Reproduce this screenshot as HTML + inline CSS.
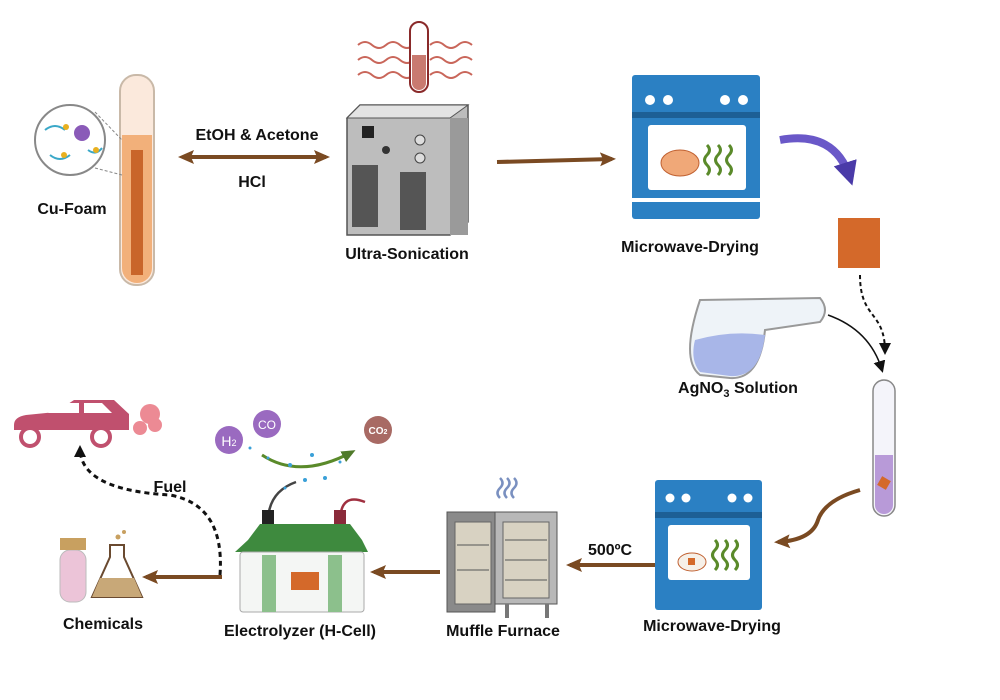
<!DOCTYPE html>
<html><head><meta charset="utf-8"><style>
html,body{margin:0;padding:0;background:#fff;}
svg{display:block;font-family:"Liberation Sans",sans-serif;}
.l{font-weight:bold;font-size:16px;fill:#111;text-anchor:middle;}
</style></head><body>
<svg width="1000" height="700" viewBox="0 0 1000 700">
<defs>
<marker id="br" markerUnits="userSpaceOnUse" markerWidth="16" markerHeight="14" refX="12" refY="7" orient="auto"><path d="M0,0 L16,7 L0,14 L3,7 z" fill="#7a4a22"/></marker>
<marker id="bl" markerUnits="userSpaceOnUse" markerWidth="12" markerHeight="12" refX="9" refY="6" orient="auto"><path d="M0,0 L12,6 L0,12 z" fill="#111"/></marker>
<marker id="pu" markerUnits="userSpaceOnUse" markerWidth="24" markerHeight="24" refX="16" refY="12" orient="auto"><path d="M0,0 L24,12 L0,24 z" fill="#4a3aa8"/></marker>
<marker id="gr" markerUnits="userSpaceOnUse" markerWidth="14" markerHeight="12" refX="10" refY="6" orient="auto"><path d="M0,0 L14,6 L0,12 z" fill="#4f7a2a"/></marker>
</defs>
<!-- Cu foam -->
<rect x="120" y="75" width="34" height="210" rx="16" fill="#fbe9dc" stroke="#c9b9a8" stroke-width="2"/>
<path d="M122,135 H152 V268 a15,15 0 0 1 -30,0 z" fill="#f2b07a"/>
<rect x="131" y="150" width="12" height="125" fill="#c9652a"/>
<line x1="95" y1="112" x2="122" y2="140" stroke="#888" stroke-dasharray="3,2"/>
<line x1="95" y1="168" x2="122" y2="175" stroke="#888" stroke-dasharray="3,2"/>
<circle cx="70" cy="140" r="35" fill="#fff" stroke="#888" stroke-width="2"/>
<circle cx="82" cy="133" r="8" fill="#8a5ab8"/>
<path d="M45,130 q10,-8 20,0 M50,155 q10,8 20,0 M88,150 q8,6 14,-2" stroke="#3aa8c8" stroke-width="2" fill="none"/>
<circle cx="66" cy="127" r="3" fill="#e8b020"/><circle cx="64" cy="155" r="3" fill="#e8b020"/><circle cx="96" cy="150" r="3" fill="#e8b020"/>
<text class="l" x="72" y="214">Cu-Foam</text>
<!-- double arrow -->
<line x1="188" y1="157" x2="326" y2="157" stroke="#7a4a22" stroke-width="4" marker-end="url(#br)"/>
<path d="M178,157 L194,150 L191,157 L194,164z" fill="#7a4a22"/>
<text class="l" x="257" y="140">EtOH &amp; Acetone</text>
<text class="l" x="252" y="187">HCl</text>
<!-- sonicator -->
<g stroke="#c9665a" stroke-width="2" fill="none">
<path d="M358,45 q7,-6 14,0 t14,0 t14,0 t14,0 M430,45 q7,-6 14,0 t14,0 t14,0"/>
<path d="M358,60 q7,-6 14,0 t14,0 t14,0 t14,0 M430,60 q7,-6 14,0 t14,0 t14,0"/>
<path d="M358,75 q7,-6 14,0 t14,0 t14,0 t14,0 M430,75 q7,-6 14,0 t14,0 t14,0"/>
</g>
<rect x="410" y="22" width="18" height="70" rx="9" fill="#fff" stroke="#8a2a2a" stroke-width="2"/>
<path d="M412,55 h14 v28 a7,7 0 0 1 -14,0z" fill="#c97a70"/>
<path d="M347,118 L360,105 L468,105 L468,222 L450,235 L347,235 z" fill="#bdbdbd" stroke="#555" stroke-width="1.5"/>
<path d="M347,118 L360,105 L468,105 L450,118 z" fill="#e3e3e3" stroke="#555"/>
<rect x="450" y="118" width="18" height="117" fill="#9a9a9a"/>
<rect x="362" y="126" width="12" height="12" fill="#222"/>
<rect x="352" y="165" width="26" height="62" fill="#555"/><rect x="400" y="172" width="26" height="58" fill="#555"/>
<circle cx="420" cy="140" r="5" fill="#ddd" stroke="#444"/><circle cx="420" cy="158" r="5" fill="#ddd" stroke="#444"/><circle cx="386" cy="150" r="4" fill="#333"/>
<text class="l" x="407" y="259">Ultra-Sonication</text>
<line x1="497" y1="162" x2="612" y2="159" stroke="#7a4a22" stroke-width="4" marker-end="url(#br)"/>
<!-- oven 1 -->
<rect x="632" y="75" width="128" height="144" rx="3" fill="#2b80c3"/>
<rect x="632" y="112" width="128" height="6" fill="#1d5f95"/>
<g fill="#fff"><circle cx="650" cy="100" r="5"/><circle cx="668" cy="100" r="5"/><circle cx="725" cy="100" r="5"/><circle cx="743" cy="100" r="5"/></g>
<rect x="648" y="125" width="98" height="65" rx="3" fill="#fff"/>
<ellipse cx="680" cy="163" rx="19" ry="13" fill="#f0a878" stroke="#c06030"/>
<path d="M707,145 q5,5 0,10 t0,10 t0,10 M718,145 q5,5 0,10 t0,10 t0,10 M729,145 q5,5 0,10 t0,10 t0,10" stroke="#5a8a2a" stroke-width="3" fill="none"/>
<rect x="632" y="198" width="128" height="4" fill="#fff"/>
<text class="l" x="690" y="252">Microwave-Drying</text>
<path d="M780,140 Q835,130 850,178" stroke="#6a58c8" stroke-width="8" fill="none" marker-end="url(#pu)"/>
<rect x="838" y="218" width="42" height="50" fill="#d4692a"/>
<path d="M860,275 C860,320 885,310 885,352" stroke="#111" stroke-width="2" stroke-dasharray="4,3" fill="none" marker-end="url(#bl)"/>
<!-- flask -->
<path d="M700,300 L820,298 Q830,310 820,322 L765,330 Q760,380 730,378 L700,375 Q680,360 700,300 z" fill="#eef3f8" stroke="#999" stroke-width="2"/>
<path d="M695,340 Q730,330 765,335 Q760,378 730,376 L700,372 Q690,360 695,340z" fill="#a8b6e8"/>
<path d="M828,315 Q870,330 882,370" stroke="#111" stroke-width="1.5" fill="none" marker-end="url(#bl)"/>
<text class="l" x="738" y="393">AgNO<tspan font-size="11" dy="4">3</tspan><tspan dy="-4"> Solution</tspan></text>
<!-- tube 2 -->
<rect x="873" y="380" width="22" height="136" rx="11" fill="#f4f4fa" stroke="#888" stroke-width="1.5"/>
<path d="M875,455 h18 v50 a9,9 0 0 1 -18,0z" fill="#b89ad8"/>
<rect x="879" y="478" width="10" height="10" fill="#d4692a" transform="rotate(30 884 483)"/>
<path d="M860,490 Q825,500 818,520 Q812,540 778,542" stroke="#7a4a22" stroke-width="4" fill="none" marker-end="url(#br)"/>
<!-- oven 2 -->
<rect x="655" y="480" width="107" height="130" rx="3" fill="#2b80c3"/>
<rect x="655" y="512" width="107" height="6" fill="#1d5f95"/>
<g fill="#fff"><circle cx="670" cy="498" r="4.5"/><circle cx="686" cy="498" r="4.5"/><circle cx="732" cy="498" r="4.5"/><circle cx="748" cy="498" r="4.5"/></g>
<rect x="668" y="525" width="82" height="55" rx="3" fill="#fff"/>
<ellipse cx="692" cy="562" rx="14" ry="9" fill="#f6f0e8" stroke="#c06030"/>
<rect x="688" y="558" width="7" height="7" fill="#d4692a"/>
<path d="M715,540 q5,5 0,10 t0,10 t0,10 M725,540 q5,5 0,10 t0,10 t0,10 M735,540 q5,5 0,10 t0,10 t0,10" stroke="#5a8a2a" stroke-width="3" fill="none"/>
<text class="l" x="712" y="631">Microwave-Drying</text>
<line x1="655" y1="565" x2="570" y2="565" stroke="#7a4a22" stroke-width="4" marker-end="url(#br)"/>
<text class="l" x="610" y="555">500ºC</text>
<!-- furnace -->
<path d="M500,478 q5,5 0,10 t0,10 M507,478 q5,5 0,10 t0,10 M514,478 q5,5 0,10 t0,10" stroke="#7a90c0" stroke-width="2.5" fill="none"/>
<rect x="447" y="512" width="48" height="100" fill="#8a8a8a" stroke="#555"/>
<rect x="455" y="522" width="36" height="82" fill="#d8d2c2" stroke="#666"/>
<rect x="495" y="512" width="62" height="92" fill="#b8b8b8" stroke="#555"/>
<rect x="503" y="522" width="46" height="76" fill="#d8d2c2" stroke="#666"/>
<g stroke="#555"><line x1="505" y1="540" x2="547" y2="540"/><line x1="505" y1="560" x2="547" y2="560"/><line x1="505" y1="580" x2="547" y2="580"/><line x1="457" y1="545" x2="489" y2="545"/><line x1="457" y1="570" x2="489" y2="570"/></g>
<rect x="505" y="604" width="4" height="14" fill="#777"/><rect x="545" y="604" width="4" height="14" fill="#777"/>
<text class="l" x="503" y="636">Muffle Furnace</text>
<line x1="440" y1="572" x2="374" y2="572" stroke="#7a4a22" stroke-width="4" marker-end="url(#br)"/>
<!-- electrolyzer -->
<path d="M268,522 q0,-30 28,-40" stroke="#444" stroke-width="2.5" fill="none"/>
<path d="M340,522 q0,-30 25,-20" stroke="#a03040" stroke-width="2.5" fill="none"/>
<rect x="262" y="510" width="12" height="22" fill="#222"/><rect x="334" y="510" width="12" height="22" fill="#8a2a3a"/>
<path d="M248,540 L260,524 L350,524 L362,540 L368,552 L235,552 z" fill="#3e8a3e"/>
<rect x="240" y="552" width="124" height="60" rx="3" fill="#f4f6f4" stroke="#aaa"/>
<rect x="262" y="555" width="14" height="57" fill="#8cc08c"/><rect x="328" y="555" width="14" height="57" fill="#8cc08c"/>
<rect x="291" y="572" width="28" height="18" fill="#d4692a"/>
<text class="l" x="300" y="636">Electrolyzer (H-Cell)</text>
<line x1="222" y1="577" x2="146" y2="577" stroke="#7a4a22" stroke-width="4" marker-end="url(#br)"/>
<!-- molecules -->
<circle cx="229" cy="440" r="14" fill="#9a6ac0"/><text x="229" y="446" font-size="14" fill="#fff" text-anchor="middle">H<tspan font-size="9">2</tspan></text>
<circle cx="267" cy="424" r="14" fill="#9a6ac0"/><text x="267" y="429" font-size="12" fill="#fff" text-anchor="middle">CO</text>
<circle cx="378" cy="430" r="14" fill="#a86a64"/><text x="378" y="434" font-size="10" font-weight="bold" fill="#fff" text-anchor="middle">CO<tspan font-size="7">2</tspan></text>
<path d="M262,455 Q300,480 352,452" stroke="#5a8a2a" stroke-width="3" fill="none" marker-end="url(#gr)"/>
<g fill="#3aa0d8"><circle cx="250" cy="448" r="1.5"/><circle cx="268" cy="458" r="1.5"/><circle cx="290" cy="465" r="2"/><circle cx="312" cy="455" r="2"/><circle cx="305" cy="480" r="2"/><circle cx="325" cy="478" r="2"/><circle cx="285" cy="488" r="1.5"/><circle cx="340" cy="462" r="1.5"/></g>
<!-- car -->
<path d="M14,425 q0,-8 12,-10 l30,-3 l18,-12 h40 l15,14 v16 h-115z" fill="#c0506e"/>
<circle cx="30" cy="437" r="9" fill="#fff" stroke="#c0506e" stroke-width="4"/>
<circle cx="101" cy="437" r="9" fill="#fff" stroke="#c0506e" stroke-width="4"/>
<path d="M48,413 l15,-10 h16 v10z M84,403 h18 l10,10 h-28z" fill="#fff"/>
<circle cx="150" cy="414" r="10" fill="#ec8a94"/><circle cx="140" cy="428" r="7" fill="#ec8a94"/><circle cx="155" cy="425" r="7" fill="#ec8a94"/>
<path d="M220,575 Q225,505 170,495 Q80,490 80,448" stroke="#111" stroke-width="3" stroke-dasharray="5,4" fill="none" marker-end="url(#bl)"/>
<text class="l" x="170" y="492">Fuel</text>
<!-- chemicals -->
<rect x="60" y="550" width="26" height="52" rx="10" fill="#ecc4d8" stroke="#bbb"/>
<rect x="60" y="538" width="26" height="12" fill="#c8a060"/>
<path d="M110,545 h14 v12 l18,40 h-50 l18,-40z" fill="#fff" stroke="#6a4a30" stroke-width="2"/>
<path d="M100,578 h34 l8,19 h-50z" fill="#c8a878"/>
<circle cx="118" cy="537" r="2.5" fill="#c8a060"/><circle cx="124" cy="532" r="2" fill="#c8a060"/>
<text class="l" x="103" y="629">Chemicals</text>
</svg>
</body></html>
